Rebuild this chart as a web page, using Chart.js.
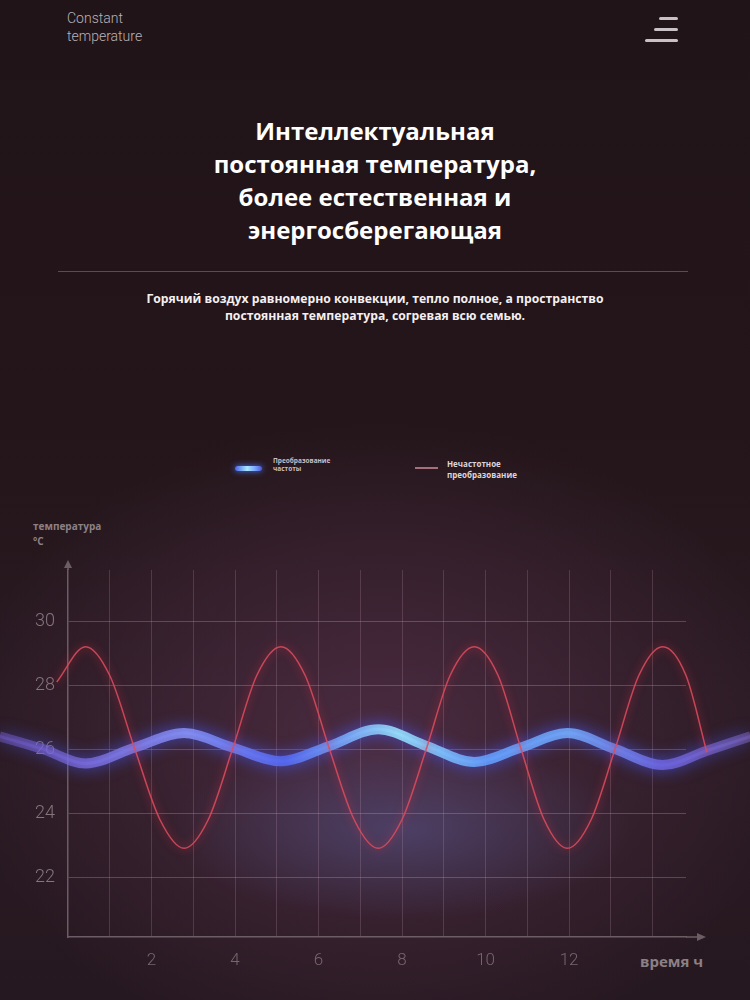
<!DOCTYPE html>
<html>
<head>
<meta charset="utf-8">
<script src="https://cdn.jsdelivr.net/npm/chart.js@4.4.1/dist/chart.umd.min.js"></script>
<style>
  html, body { margin: 0; padding: 0; }
  body {
    width: 750px; height: 1000px; overflow: hidden; position: relative;
    font-family: "Open Sans", "Noto Sans", sans-serif;
    background:
      radial-gradient(ellipse 230px 90px at 400px 830px, rgba(95,105,175,0.38), rgba(95,105,175,0) 100%),
      radial-gradient(ellipse 420px 320px at 380px 740px, rgba(76,44,66,0.95), rgba(76,44,66,0) 100%),
      linear-gradient(#211418 0px, #231519 420px, #2a1a23 700px, #261820 1000px);
  }
  .brand { position: absolute; left: 67px; top: 9px; color: #bcb2b7; font-family: Roboto, sans-serif; font-weight: 300; font-size: 14px; line-height: 18px; }
  .menu { position: absolute; right: 72px; top: 17px; width: 33px; }
  .menu span { display: block; height: 3px; background: #c9c1c5; border-radius: 2px; margin-left: auto; margin-bottom: 8px; }
  h1 { position: absolute; left: 0; width: 750px; top: 114px; margin: 0; text-align: center; color: #fff; font-size: 24px; line-height: 33px; font-weight: 700; }
  .rule { position: absolute; left: 58px; width: 630px; top: 271px; height: 1px; background: #5e4b52; }
  .sub { position: absolute; left: 0; width: 750px; top: 290px; text-align: center; color: #f4eff1; font-size: 12.2px; line-height: 17px; font-weight: 700; }
  .lg { position: absolute; color: #ddd5d9; font-weight: 700; }
  .pill { position: absolute; left: 235px; top: 466px; width: 27px; height: 5px; border-radius: 3px;
          background: linear-gradient(90deg, #4a62e6, #a6e8ff 45%, #7aa4ff 75%, #4a58d8); box-shadow: 0 0 6px #4a78ff; }
  .redl { position: absolute; left: 415px; top: 467px; width: 23px; height: 2px; background: #a3707c; }
  .ytitle { position: absolute; left: 33px; top: 519px; color: #8c8086; font-size: 10px; line-height: 15px; font-weight: 700; }
  .xtitle { position: absolute; left: 640px; top: 951px; color: #8c8086; font-size: 15px; font-weight: 700; }
  canvas { position: absolute; left: 0; top: 540px; }
</style>
</head>
<body>
<div class="brand">Constant<br>temperature</div>
<div class="menu"><span style="width:19px"></span><span style="width:24px"></span><span style="width:33px"></span></div>
<h1>Интеллектуальная<br>постоянная температура,<br>более естественная и<br>энергосберегающая</h1>
<div class="rule"></div>
<div class="sub">Горячий воздух равномерно конвекции, тепло полное, а пространство<br>постоянная температура, согревая всю семью.</div>

<div class="pill"></div>
<div class="lg" style="left:273px; top:457px; font-size:6.5px; line-height:8px; color:#c8bec3;">Преобразование<br>частоты</div>
<div class="redl"></div>
<div class="lg" style="left:447px; top:458px; font-size:8px; line-height:11px;">Нечастотное<br>преобразование</div>

<div class="ytitle">температура<br>°C</div>
<div class="xtitle">время ч</div>

<canvas id="chart" width="750" height="460"></canvas>

<script>
// values (hours, °C)
const redHours = [-0.27, 0.42, 1.0, 1.6, 2.2, 2.78, 3.36, 3.94, 4.52, 5.1, 5.68, 6.26, 6.85, 7.43, 8.0, 8.58, 9.15, 9.73, 10.3, 10.85, 11.4, 11.96, 12.53, 13.1, 13.67, 14.24, 14.8, 15.3];
const redTemps = [28.1, 29.2, 28.3, 26.0, 23.8, 22.9, 23.8, 26.0, 28.3, 29.2, 28.3, 26.0, 23.8, 22.9, 23.8, 26.0, 28.3, 29.2, 28.3, 26.0, 23.8, 22.9, 23.8, 26.0, 28.3, 29.2, 28.3, 25.9];

const blueHours = [-1.64, -0.6, 0.42, 1.6, 2.78, 3.94, 5.1, 6.26, 7.43, 8.58, 9.73, 10.85, 11.96, 13.1, 14.24, 15.3, 16.35];
const blueTemps = [26.4, 26.0, 25.55, 26.05, 26.5, 26.05, 25.62, 26.1, 26.62, 26.1, 25.6, 26.05, 26.5, 26.0, 25.5, 25.95, 26.4];

const yTicks = [22, 24, 26, 28, 30];
const xGrid = [0, 1, 2, 3, 4, 5, 6, 7, 8, 9, 10, 11, 12, 13, 14];
const xLabels = [2, 4, 6, 8, 10, 12];
const xMin = 0, xMax = 14.8;

const toPts = (xs, ys) => xs.map((x, i) => ({ x: x, y: ys[i] }));

function blueGradient(ctx, alpha) {
  const g = ctx.chart.ctx.createLinearGradient(0, 0, ctx.chart.width, 0);
  g.addColorStop(0.0, `rgba(120,90,210,${alpha * 0.5})`);
  g.addColorStop(0.12, `rgba(125,110,225,${alpha * 0.9})`);
  g.addColorStop(0.25, `rgba(135,145,245,${alpha})`);
  g.addColorStop(0.38, `rgba(85,105,245,${alpha})`);
  g.addColorStop(0.53, `rgba(155,230,255,${alpha})`);
  g.addColorStop(0.65, `rgba(100,160,255,${alpha})`);
  g.addColorStop(0.76, `rgba(115,170,250,${alpha})`);
  g.addColorStop(0.88, `rgba(110,100,225,${alpha})`);
  g.addColorStop(1.0, `rgba(140,110,215,${alpha * 0.5})`);
  return g;
}

const glow = {
  id: 'glow',
  beforeDatasetDraw(chart, args) {
    const ds = chart.data.datasets[args.index];
    chart.ctx.save();
    if (ds.glowColor) {
      chart.ctx.shadowColor = ds.glowColor;
      chart.ctx.shadowBlur = ds.glowBlur;
    }
  },
  afterDatasetDraw(chart) { chart.ctx.restore(); }
};

// arrow heads on the two axes
const arrows = {
  id: 'arrows',
  beforeDatasetsDraw(chart) {
    const { ctx, chartArea: a } = chart;
    ctx.save();
    ctx.strokeStyle = '#6c5c64';
    ctx.fillStyle = '#6c5c64';
    ctx.lineWidth = 1.5;
    ctx.beginPath();
    ctx.moveTo(a.left, a.top);
    ctx.lineTo(a.left, a.top - 4);
    ctx.moveTo(a.right, a.bottom);
    ctx.lineTo(a.right + 12, a.bottom);
    ctx.stroke();
    ctx.beginPath();
    ctx.moveTo(a.left, a.top - 10);
    ctx.lineTo(a.left - 4, a.top - 2);
    ctx.lineTo(a.left + 4, a.top - 2);
    ctx.fill();
    ctx.beginPath();
    ctx.moveTo(a.right + 20, a.bottom);
    ctx.lineTo(a.right + 11, a.bottom - 4);
    ctx.lineTo(a.right + 11, a.bottom + 4);
    ctx.fill();
    ctx.restore();
  }
};

new Chart(document.getElementById('chart'), {
  type: 'line',
  data: {
    datasets: [
      {
        label: 'Нечастотное преобразование',
        data: toPts(redHours, redTemps),
        borderColor: 'rgba(218,76,94,0.88)',
        borderWidth: 1.5,
        glowColor: 'rgba(235,50,70,0.9)',
        glowBlur: 8,
        cubicInterpolationMode: 'monotone',
        pointRadius: 0,
        clip: false
      },
      {
        label: 'Преобразование частоты',
        data: toPts(blueHours, blueTemps),
        borderColor: ctx => blueGradient(ctx, 0.85),
        borderWidth: 10,
        glowColor: 'rgba(70,90,255,0.9)',
        glowBlur: 16,
        cubicInterpolationMode: 'monotone',
        pointRadius: 0,
        clip: false
      },
      {
        label: 'core',
        data: toPts(blueHours, blueTemps),
        borderColor: ctx => blueGradient(ctx, 0.6),
        borderWidth: 3,
        glowColor: 'rgba(180,220,255,0.6)',
        glowBlur: 4,
        cubicInterpolationMode: 'monotone',
        pointRadius: 0,
        clip: false
      }
    ]
  },
  options: {
    responsive: false,
    animation: false,
    layout: { padding: { left: 0, right: 64, top: 30, bottom: 0 } },
    plugins: { legend: { display: false }, tooltip: { enabled: false } },
    scales: {
      x: {
        type: 'linear',
        bounds: 'data',
        afterDataLimits: s => { s.min = xMin; s.max = xMax; },
        afterBuildTicks: s => { s.min = xMin; s.max = xMax; s.ticks = xGrid.map(v => ({ value: v })); },
        afterFit: s => { s.height = 63; },
        grid: {
          drawTicks: false,
          color: c => (c.tick && c.tick.value === 0) ? 'rgba(0,0,0,0)' : 'rgba(200,160,180,0.22)',
          lineWidth: 1
        },
        border: { color: '#6c5c64', width: 1.5 },
        ticks: {
          padding: 14,
          maxRotation: 0,
          autoSkip: false,
          color: '#76666e',
          font: { family: 'Roboto', weight: '300', size: 17 },
          callback: v => xLabels.includes(v) ? String(v) : ''
        }
      },
      y: {
        min: 20.125,
        max: 31.6,
        afterBuildTicks: s => { s.ticks = yTicks.map(v => ({ value: v })); },
        afterFit: s => { s.width = 68; },
        grid: { drawTicks: false, color: 'rgba(205,165,185,0.3)', lineWidth: 1 },
        border: { color: '#6c5c64', width: 1.5 },
        ticks: {
          padding: 13,
          color: '#85757d',
          font: { family: 'Roboto', weight: '300', size: 18 }
        }
      }
    }
  },
  plugins: [arrows, glow]
});
</script>
</body>
</html>
